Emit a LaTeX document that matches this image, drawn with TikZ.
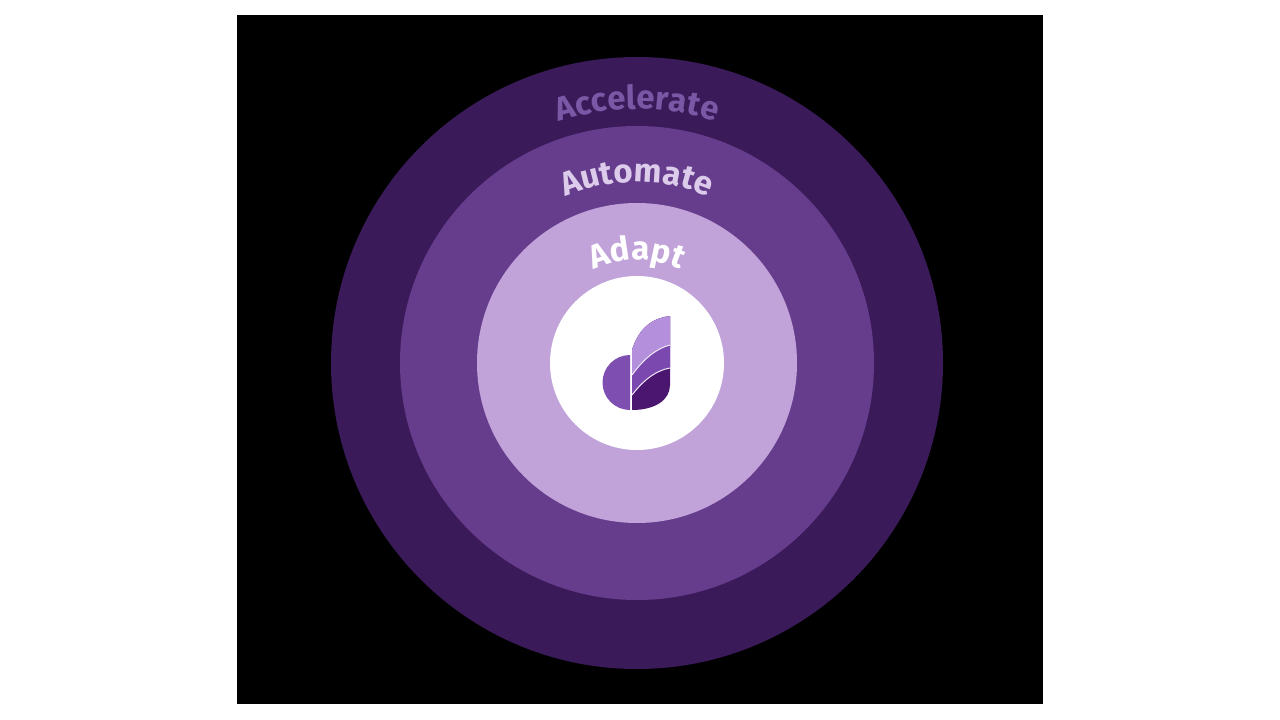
\documentclass[tikz,border=0pt]{standalone}
\usepackage{fontspec}
\setmainfont{Fira Sans}
\usetikzlibrary{decorations.text}
\definecolor{ringOuter}{HTML}{3B1A5A}
\definecolor{ringMid}{HTML}{663D8C}
\definecolor{ringInner}{HTML}{C1A3DA}
\definecolor{txtOuter}{HTML}{7B58A6}
\definecolor{txtMid}{HTML}{DCCBEA}
\definecolor{leafA}{HTML}{7E4FB0}
\definecolor{leafB}{HTML}{B48FDC}
\definecolor{leafC}{HTML}{7A48AE}
\definecolor{leafD}{HTML}{4A1670}
\begin{document}
\begin{tikzpicture}[x=1pt,y=-1pt]
  \useasboundingbox (0,0) rectangle (1280,720);
  \fill[white] (0,0) rectangle (1280,720);
  \fill[black] (237,15) rectangle (1043,704);
  \coordinate (c) at (637,363);
  \fill[ringOuter] (c) circle[radius=306];
  \fill[ringMid] (c) circle[radius=237];
  \fill[ringInner] (c) circle[radius=160];
  \fill[white] (c) circle[radius=87];
  % curved labels
  \path[decorate,decoration={text along path,text align=center,
    text={|\fontsize{33}{33}\selectfont\bfseries\color{txtOuter}|Accelerate}}]
    ([shift={(210:254)}]c) arc[start angle=210,end angle=330,radius=254];
  \path[decorate,decoration={text along path,text align=center,
    text={|\fontsize{33}{33}\selectfont\bfseries\color{txtMid}|Automate}}]
    ([shift={(220:181)}]c) arc[start angle=220,end angle=320,radius=181];
  \path[decorate,decoration={text along path,text align=center,
    text={|\fontsize{33}{33}\selectfont\bfseries\color{white}|Adapt}}]
    ([shift={(230:103)}]c) arc[start angle=230,end angle=310,radius=103];
  % logo
  \fill[leafA] (630,355) arc[start angle=270,end angle=90,radius=27.5] -- cycle;
  \begin{scope}
    \clip (632,350) .. controls (640,325) and (655,318) .. (670,316)
      -- (670,385) .. controls (670,400) and (655,410) .. (632,410) -- cycle;
    \fill[leafD] (620,300) rectangle (680,420);
    \fill[leafC] (620,300) -- (632,300) -- (632,395) .. controls (645,378) and (658,370) .. (670,368) -- (680,368) -- (680,300) -- cycle;
    \fill[leafB] (620,300) -- (632,300) -- (632,375) .. controls (645,357) and (658,348) .. (670,345) -- (680,345) -- (680,300) -- cycle;
    \draw[white!80!leafB,line width=1pt] (632,375) .. controls (645,357) and (658,348) .. (670,345);
    \draw[white!80!leafB,line width=1pt] (632,395) .. controls (645,378) and (658,370) .. (670,368);
  \end{scope}
\end{tikzpicture}
\end{document}
